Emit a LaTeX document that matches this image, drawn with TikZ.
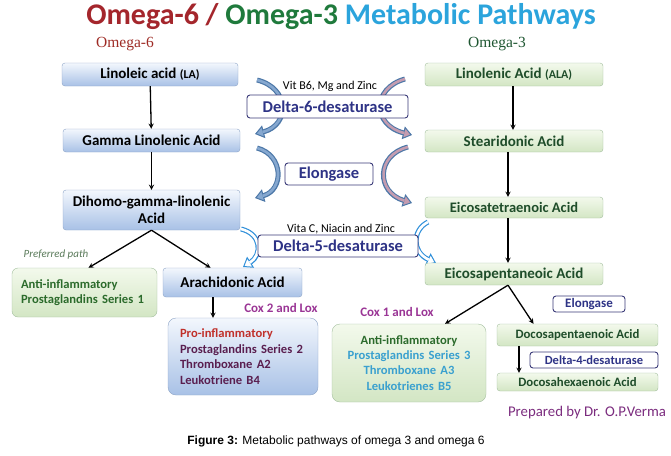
\documentclass[tikz,border=0pt]{standalone}
\usepackage{fontspec}
\setmainfont{Carlito}
\newfontfamily\labelserif{Liberation Serif}
\newfontfamily\captionsans{Liberation Sans}
\usepackage{tikz}
\usetikzlibrary{positioning, arrows, arrows.meta, shapes}
\definecolor{omsixred}{HTML}{A4262C}
\definecolor{omthreegreen}{HTML}{1F7A3C}
\definecolor{metablue}{HTML}{2BA4DC}
\definecolor{lblred}{HTML}{9E2B25}
\definecolor{lblgreen}{HTML}{1E5631}
\definecolor{sixedge}{HTML}{8CA3C6}
\definecolor{sixtop}{HTML}{F3F7FD}
\definecolor{sixbot}{HTML}{A8C1E6}
\definecolor{threeedge}{HTML}{A3BE9E}
\definecolor{threetop}{HTML}{F3F9EC}
\definecolor{threebot}{HTML}{D3E6C4}
\definecolor{threetext}{HTML}{1F4D2A}
\definecolor{enzedge}{HTML}{3A3A78}
\definecolor{enztext}{HTML}{2E3386}
\definecolor{coxpurple}{HTML}{9A3595}
\definecolor{preppurple}{HTML}{7B2C7E}
\definecolor{prefgreen}{HTML}{5A7A5A}
\definecolor{antigreen}{HTML}{2C6B2C}
\definecolor{prored}{HTML}{C0302A}
\definecolor{proplum}{HTML}{5A1F50}
\definecolor{antiblue}{HTML}{3AA0CF}
\definecolor{bendedge}{HTML}{4D78A8}
\definecolor{bendleft}{HTML}{86A8D0}
\definecolor{bendright}{HTML}{C49CB0}
\definecolor{dfiveedge}{HTML}{3090DA}
\pgfdeclarelayer{background}
\pgfsetlayers{background,main}
\tikzstyle{sixbox} = [rectangle, rounded corners=3pt, draw=sixedge, top color=sixtop, bottom color=sixbot, text=black, align=center, inner sep=0pt, font=\bfseries\fontsize{15}{16.5}\selectfont]
\tikzstyle{threebox} = [rectangle, rounded corners=3pt, draw=threeedge, top color=threetop, bottom color=threebot, text=threetext, align=center, inner sep=0pt, font=\bfseries\fontsize{15}{16.5}\selectfont]
\tikzstyle{enzyme} = [rectangle, rounded corners=3pt, draw=enzedge, line width=0.9pt, fill=white, text=enztext, inner sep=0pt, font=\bfseries\fontsize{16.5}{18}\selectfont]
\tikzstyle{arrow} = [line width=1.3pt,->,>=stealth]
\tikzset{curvearr/.style 2 args={line width=5pt, draw=#1, -{Triangle[length=9pt,width=13pt,line width=1pt,fill=#2]}, postaction={draw=#2, line width=2.6pt, shorten >=8pt, -}}}

\begin{document}
\begin{tikzpicture}[x=1pt, y=-1pt]
\useasboundingbox (0,0) rectangle (671,455);
\node (title) at (341,17) {\fontsize{30}{32}\selectfont\bfseries\textcolor{omsixred}{Omega-6 /} \textcolor{omthreegreen}{Omega-3} \textcolor{metablue}{Metabolic Pathways}};
\node (omsixlbl) at (125,44) {\labelserif\fontsize{15.5}{18}\selectfont\textcolor{lblred}{Omega-6}};
\node (omthreelbl) at (497,44) {\labelserif\fontsize{15.5}{18}\selectfont\textcolor{lblgreen}{Omega-3}};

\node (la) [sixbox, minimum width=176pt, minimum height=23pt] at (150,74.5) {Linoleic acid {\fontsize{12}{13}\selectfont(LA)}};
\node (gla) [sixbox, minimum width=177pt, minimum height=23pt] at (151.5,140.5) {Gamma Linolenic Acid};
\node (dgla) [sixbox, minimum width=177pt, minimum height=40pt] at (151.5,210) {Dihomo-gamma-linolenic\\Acid};
\node (aa) [sixbox, minimum width=139pt, minimum height=29pt] at (232.5,282.5) {Arachidonic Acid};
\node (antisix) [threebox, rounded corners=6pt, minimum width=145pt, minimum height=49pt, text width=127pt, align=left, text=antigreen, font=\bfseries\fontsize{12.6}{15.7}\selectfont] at (84.5,292.5) {Anti-inflammatory\\Prostaglandins Series 1};
\node (pro) [sixbox, rounded corners=8pt, minimum width=150pt, minimum height=77pt, text width=126pt, align=left, text=proplum, font=\bfseries\fontsize{12.6}{15.7}\selectfont] at (243,356.5) {\textcolor{prored}{Pro-inflammatory}\\Prostaglandins Series 2\\Thromboxane A2\\Leukotriene B4};

\node (ala) [threebox, minimum width=178pt, minimum height=23pt] at (514,74.5) {Linolenic Acid {\fontsize{12}{13}\selectfont(ALA)}};
\node (sda) [threebox, minimum width=178pt, minimum height=22pt] at (514,141) {Stearidonic Acid};
\node (eta) [threebox, minimum width=178pt, minimum height=21pt, font=\bfseries\fontsize{14.5}{15}\selectfont] at (514,207.5) {Eicosatetraenoic Acid};
\node (epa) [threebox, minimum width=178pt, minimum height=22pt] at (514,274) {Eicosapentaneoic Acid};
\node (antithree) [threebox, rounded corners=8pt, minimum width=154pt, minimum height=78pt, text width=140pt, text=antiblue, font=\bfseries\fontsize{12.6}{15.2}\selectfont] at (409,363) {\textcolor{antigreen}{Anti-inflammatory}\\Prostaglandins Series 3\\Thromboxane A3\\Leukotrienes B5};
\node (dpa) [threebox, minimum width=161pt, minimum height=22pt, font=\bfseries\fontsize{12.8}{15}\selectfont] at (577.5,335) {Docosapentaenoic Acid};
\node (dha) [threebox, minimum width=161pt, minimum height=18pt, font=\bfseries\fontsize{12.8}{15}\selectfont] at (577.5,382) {Docosahexaenoic Acid};

\node (dsix) [enzyme, minimum width=161pt, minimum height=23pt] at (327.5,106.5) {Delta-6-desaturase};
\node (elong) [enzyme, minimum width=88pt, minimum height=22pt] at (329,174) {Elongase};
\node (dfive) [enzyme, minimum width=160pt, minimum height=22pt] at (338,246) {Delta-5-desaturase};
\node (elongb) [enzyme, minimum width=72pt, minimum height=16pt, font=\bfseries\fontsize{13}{15}\selectfont] at (589,304) {Elongase};
\node (dfour) [enzyme, minimum width=128pt, minimum height=16pt, font=\bfseries\fontsize{12.5}{14}\selectfont] at (594,360) {Delta-4-desaturase};

\node (vitbsix) at (330,86) {\fontsize{12}{14}\selectfont Vit B6, Mg and Zinc};
\node (vitac) at (341,229) {\fontsize{12}{14}\selectfont Vita C, Niacin and Zinc};
\node (prefpath) at (56,255) {\fontsize{11}{13}\selectfont\itshape\textcolor{prefgreen}{Preferred path}};
\node (coxtwo) at (281,308) {\fontsize{13}{15}\selectfont\bfseries\textcolor{coxpurple}{Cox 2 and Lox}};
\node (coxone) at (397,312) {\fontsize{13}{15}\selectfont\bfseries\textcolor{coxpurple}{Cox 1 and Lox}};
\node (prepared) at (587,413) {\fontsize{14.8}{17}\selectfont\textcolor{preppurple}{Prepared by Dr. O.P.Verma}};
\node (caption) at (336,441) {\captionsans\fontsize{12}{14}\selectfont\textbf{Figure 3:} Metabolic pathways of omega 3 and omega 6};

\draw [arrow] (la) -- (gla);
\draw [arrow] (gla) -- (dgla);
\draw [arrow] (dgla.south) -- ([xshift=4pt]antisix.north);
\draw [arrow] (dgla.south) -- ([xshift=-22pt]aa.north);
\draw [arrow] ([xshift=-19.5pt]aa.south) -- ([xshift=-30pt]pro.north);
\draw [arrow] ([xshift=-1pt]ala.south) -- ([xshift=-1pt]sda.north);
\draw [arrow] ([xshift=-6pt]sda.south) -- ([xshift=-6pt]eta.north);
\draw [arrow] ([xshift=-6pt]eta.south) -- ([xshift=-6pt]epa.north);
\draw [arrow] ([xshift=-6pt]epa.south) -- ([xshift=36pt]antithree.north);
\draw [arrow] ([xshift=-6pt]epa.south) -- ([xshift=-44pt]dpa.north);
\draw [arrow] ([xshift=-58.5pt]dpa.south) -- ([xshift=-58.5pt]dha.north);

\coordinate (dsixlt) at (257,80);
\coordinate (dsixlb) at (255,134);
\coordinate (dsixrt) at (405,79);
\coordinate (dsixrb) at (412,135);
\coordinate (elonglt) at (257,148);
\coordinate (elonglb) at (255,198);
\coordinate (elongrt) at (408,147);
\coordinate (elongrb) at (412,203);
\coordinate (dfivelt) at (241,229);
\coordinate (dfivelb) at (243,267);
\coordinate (dfivert) at (428,222);
\coordinate (dfiverb) at (436,263);

\begin{pgfonlayer}{background}
\draw [curvearr={bendedge}{bendleft}] (dsixlt) .. controls (290,88) and (290,125) .. (dsixlb);
\draw [curvearr={bendedge}{bendright}] (dsixrt) .. controls (372,88) and (372,125) .. (dsixrb);
\draw [curvearr={bendedge}{bendleft}] (elonglt) .. controls (284,155) and (284,190) .. (elonglb);
\draw [curvearr={bendedge}{bendright}] (elongrt) .. controls (376,155) and (376,192) .. (elongrb);
\draw [curvearr={dfiveedge}{white}] (dfivelt) .. controls (262,234) and (262,255) .. (dfivelb);
\draw [curvearr={dfiveedge}{white}] (dfivert) .. controls (412,230) and (412,252) .. (dfiverb);
\end{pgfonlayer}
\end{tikzpicture}
\end{document}
